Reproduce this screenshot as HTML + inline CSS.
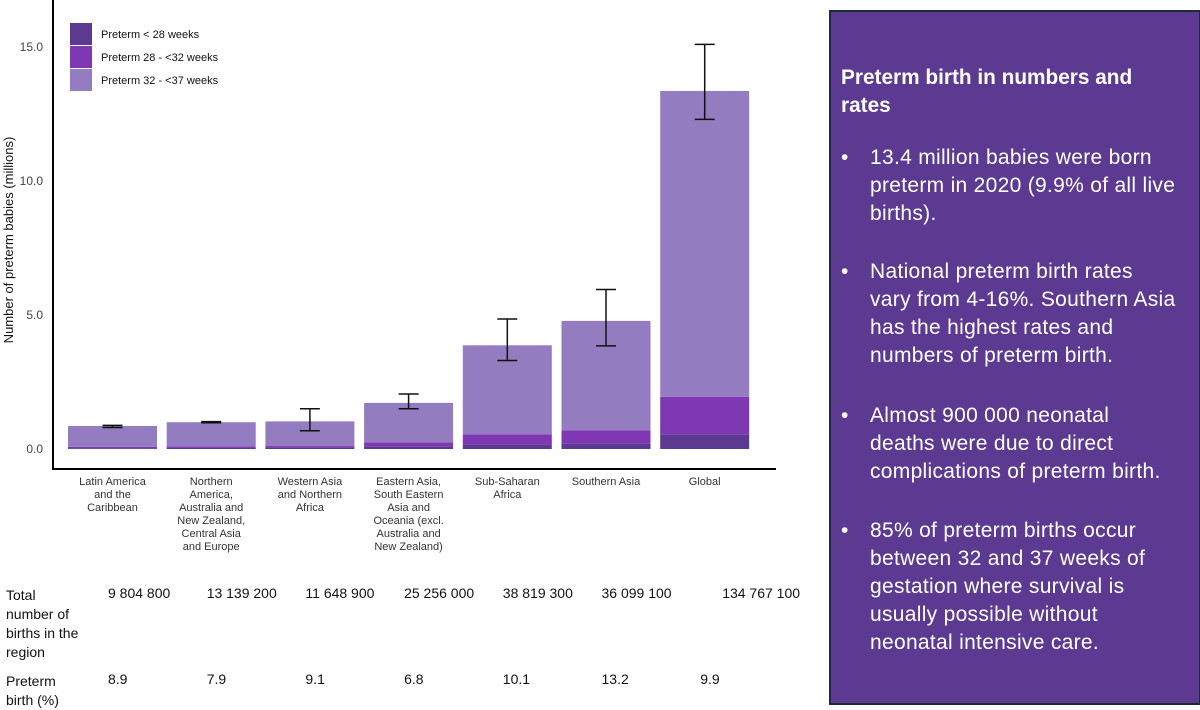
<!DOCTYPE html>
<html><head><meta charset="utf-8"><style>
body{margin:0;width:1200px;height:709px;background:#fff;overflow:hidden;position:relative;font-family:"Liberation Sans",sans-serif}
#chart{position:absolute;left:0;top:0}
.tbl{position:absolute;font-size:14px;color:#111}
#panel{position:absolute;left:829px;top:10px;width:372px;height:695px;background:#5c3a92;border:2px solid #1d2a3a;box-sizing:border-box;color:#fff;font-family:"Liberation Sans",sans-serif}
#panel h2{position:absolute;left:10px;top:52px;margin:0;font-size:20.8px;line-height:28px;font-weight:bold;white-space:nowrap}
.bul{position:absolute;left:10px;font-size:21px;line-height:28px;white-space:nowrap;letter-spacing:0.3px}
.bul span.d{position:absolute;left:0}
.bul div{margin-left:29px}
</style></head><body>
<svg id="chart" width="829" height="709"></svg>
<div class="tbl" style="left:6px;top:586px;line-height:19px">Total<br>number of<br>births in the<br>region</div>
<div class="tbl" style="left:6px;top:672px;line-height:19px">Preterm<br>birth (%)</div>
<div id="panel">
<h2>Preterm birth in numbers and<br>rates</h2>
<div class="bul" style="top:132px"><span class="d">•</span><div>13.4 million babies were born<br>preterm in 2020 (9.9% of all live<br>births).</div></div>
<div class="bul" style="top:246px"><span class="d">•</span><div>National preterm birth rates<br>vary from 4-16%. Southern Asia<br>has the highest rates and<br>numbers of preterm birth.</div></div>
<div class="bul" style="top:390px"><span class="d">•</span><div>Almost 900 000 neonatal<br>deaths were due to direct<br>complications of preterm birth.</div></div>
<div class="bul" style="top:505px"><span class="d">•</span><div>85% of preterm births occur<br>between 32 and 37 weeks of<br>gestation where survival is<br>usually possible without<br>neonatal intensive care.</div></div>
</div>
<script>
const categories=[["Latin America","and the","Caribbean"],["Northern","America,","Australia and","New Zealand,","Central Asia","and Europe"],["Western Asia","and Northern","Africa"],["Eastern Asia,","South Eastern","Asia and","Oceania (excl.","Australia and","New Zealand)"],["Sub-Saharan","Africa"],["Southern Asia"],["Global"]];
const under28=[0.03,0.04,0.04,0.1,0.18,0.2,0.55];
const w28to32=[0.05,0.06,0.07,0.15,0.37,0.5,1.4];
const w32to37=[0.78,0.9,0.92,1.47,3.32,4.08,11.41];
const errLow=[0.8,0.98,0.68,1.5,3.3,3.85,12.3];
const errHigh=[0.88,1.02,1.5,2.05,4.85,5.95,15.1];
const yTicks=[0,5,10,15];
const yTickLabels=["0.0","5.0","10.0","15.0"];
const births=["9 804 800","13 139 200","11 648 900","25 256 000","38 819 300","36 099 100","134 767 100"];
const rates=["8.9","7.9","9.1","6.8","10.1","13.2","9.9"];

const svg=document.getElementById('chart');const NS='http://www.w3.org/2000/svg';
function mk(t,a,p){const e=document.createElementNS(NS,t);for(const k in a)e.setAttribute(k,a[k]);(p||svg).appendChild(e);return e;}
const y=v=>449-v*26.8;
const x=i=>68+i*98.7;
const bw=89;
const cols=["#5c3a92","#7f37b3","#937cbf"];
let e=mk('line',{x1:53,y1:0,x2:53,y2:469,stroke:'#000','stroke-width':2});

e=mk('line',{x1:52,y1:469,x2:776,y2:469,stroke:'#000','stroke-width':2});

yTicks.forEach((t,i)=>{const tx=mk('text',{x:43,y:y(t)+4,'text-anchor':'end','font-size':12,fill:'#444'});tx.textContent=yTickLabels[i];
});
e=mk('text',{x:0,y:0,transform:'translate(13,240) rotate(-90)','text-anchor':'middle','font-size':13,fill:'#111'});e.textContent='Number of preterm babies (millions)';

categories.forEach((c,i)=>{
 const segs=[under28[i],w28to32[i],w32to37[i]];let base=0;
 segs.forEach((v,k)=>{const r=mk('rect',{x:x(i),y:y(base+v),width:bw,height:y(base)-y(base+v),fill:cols[k]});
  base+=v;});
 const cx=x(i)+bw/2;
 const g=mk('g',{stroke:'#111','stroke-width':1.5});
 mk('line',{x1:cx,x2:cx,y1:y(errLow[i]),y2:y(errHigh[i])},g);
 mk('line',{x1:cx-10,x2:cx+10,y1:y(errLow[i]),y2:y(errLow[i])},g);
 mk('line',{x1:cx-10,x2:cx+10,y1:y(errHigh[i]),y2:y(errHigh[i])},g);
 const t=mk('text',{'text-anchor':'middle','font-size':11,fill:'#333'});
 c.forEach((l,j)=>{const s=mk('tspan',{x:cx,y:485+j*13},t);s.textContent=l;});
 const b=mk('text',{x:x(i)+40+(i==6?22:0),y:598,'font-size':14,fill:'#111'});b.textContent=births[i];
 
 const r=mk('text',{x:x(i)+40,y:684,'font-size':14,fill:'#111'});r.textContent=rates[i];
 
});
["Preterm < 28 weeks","Preterm 28 - <32 weeks","Preterm 32 - <37 weeks"].forEach((l,k)=>{
 const g=mk('g',{});
 mk('rect',{x:70,y:23+k*23,width:22,height:22,fill:cols[k]},g);
 const t=mk('text',{x:101,y:38+k*23,'font-size':11,fill:'#111'},g);t.textContent=l;});
</script>
</body></html>
